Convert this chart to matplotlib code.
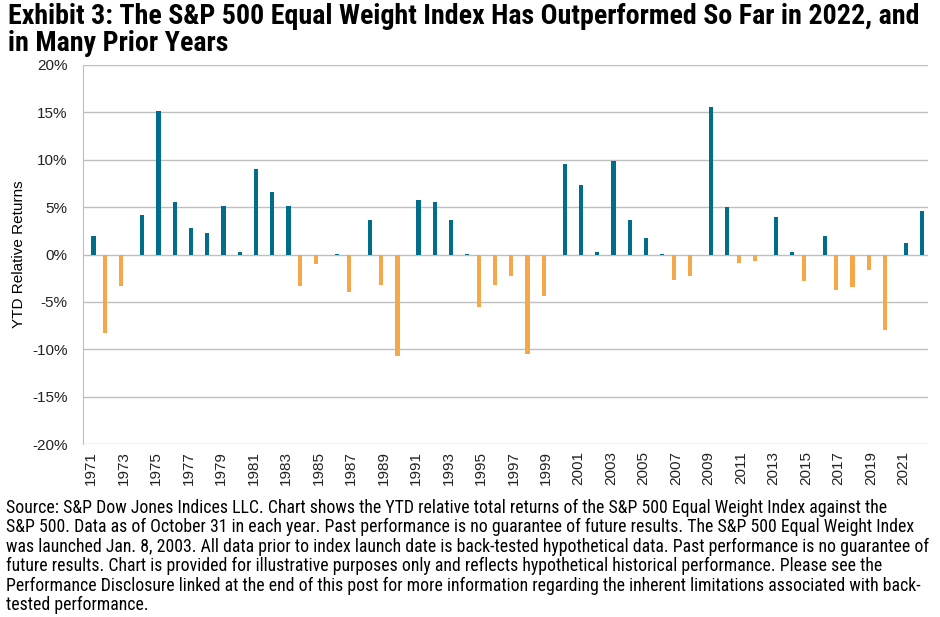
# Imports
import numpy as np
import matplotlib
matplotlib.use("Agg")
import matplotlib.pyplot as plt
from matplotlib import font_manager
from matplotlib.font_manager import FontProperties
from matplotlib.ticker import PercentFormatter

years = list(range(1971, 2023))
# YTD relative return (%) of the S&P 500 Equal Weight Index vs the S&P 500
rel_returns = [
    2.0, -8.3, -3.3, 4.2, 15.1, 5.5, 2.8, 2.3, 5.1, 0.3,   # 1971-1980
    9.0, 6.6, 5.1, -3.3, -1.0, 0.1, -4.0, 3.6, -3.2, -10.7,  # 1981-1990
    5.8, 5.5, 3.6, 0.1, -5.5, -3.2, -2.3, -10.5, -4.4, 9.5,  # 1991-2000
    7.3, 0.3, 9.9, 3.6, 1.7, 0.1, -2.7, -2.3, 15.6, 5.0,     # 2001-2010
    -0.9, -0.7, 4.0, 0.25, -2.8, 2.0, -3.7, -3.4, -1.6, -8.0,  # 2011-2020
    1.2, 4.6,                                                 # 2021-2022
]
tick_years = years[::2]

title = ("Exhibit 3: The S&P 500 Equal Weight Index Has Outperformed So Far in 2022, and\n"
         "in Many Prior Years")
footnote = (
    "Source: S&P Dow Jones Indices LLC. Chart shows the YTD relative total returns of the S&P 500 Equal Weight Index against the\n"
    "S&P 500. Data as of October 31 in each year. Past performance is no guarantee of future results. The S&P 500 Equal Weight Index\n"
    "was launched Jan. 8, 2003. All data prior to index launch date is back-tested hypothetical data. Past performance is no guarantee of\n"
    "future results. Chart is provided for illustrative purposes only and reflects hypothetical historical performance. Please see the\n"
    "Performance Disclosure linked at the end of this post for more information regarding the inherent limitations associated with back-\n"
    "tested performance."
)

blue = "#006E8A"
orange = "#F4A84A"


def pick_narrow(weight):
    # look for a condensed sans face; fall back to plain Liberation Sans
    want_bold = weight == "bold"
    best = None
    for f in font_manager.fontManager.ttflist:
        is_bold = f.weight in ("bold", 700, "700")
        if is_bold != want_bold or f.style != "normal":
            continue
        if f.name in ("Liberation Sans Narrow", "Arial Narrow", "Roboto Condensed"):
            return FontProperties(fname=f.fname)
        if f.name in ("Noto Sans", "Open Sans", "DejaVu Sans") and f.stretch in ("condensed", "semi-condensed"):
            best = best or FontProperties(fname=f.fname)
    if best:
        return best
    return FontProperties(family="Liberation Sans", weight=weight)


plt.rcParams["font.family"] = ["Liberation Sans", "DejaVu Sans"]
plt.rcParams["axes.unicode_minus"] = False

x = np.array(years)
vals = np.array(rel_returns)
pos = np.where(vals >= 0, vals, 0)
neg = np.where(vals < 0, vals, 0)

fig = plt.figure(figsize=(9.4, 6.17), dpi=100)
ax = fig.add_axes([83 / 940, 1 - 444 / 617, 845 / 940, 379 / 617])

ax.bar(x - 0.14, neg, width=0.26, color=orange, zorder=3)
ax.bar(x + 0.14, pos, width=0.26, color=blue, zorder=3)

ax.set_xlim(1970.5, 2022.5)
ax.set_ylim(-20, 20)
ax.set_yticks(np.arange(-20, 21, 5))
ax.yaxis.set_major_formatter(PercentFormatter(decimals=0))
ax.set_xticks(tick_years)
ax.set_xticklabels([str(y) for y in tick_years], rotation=90)
ax.tick_params(length=0, labelsize=11, colors="#222222")
ax.tick_params(axis="y", pad=11)
ax.tick_params(axis="x", pad=5)
ax.grid(axis="y", color="#BFBFBF", linewidth=1, zorder=0)
for s in ["top", "right", "bottom"]:
    ax.spines[s].set_visible(False)
ax.spines["left"].set_color("#BFBFBF")
ax.set_ylabel("YTD Relative Returns", fontsize=11, labelpad=4.5)

title_fp = pick_narrow("bold")
note_fp = pick_narrow("normal")
title_fp.set_size(16)
note_fp.set_size(12)

t = fig.text(0.008, 0.995, title, ha="left", va="top", fontproperties=title_fp, linespacing=1.0)
n = fig.text(0.006, 0.192, footnote, ha="left", va="top", fontproperties=note_fp, linespacing=1.1)

# scale text so its widest line spans like the reference
renderer = fig.canvas.get_renderer()
for txt, target, size in [(t, 913, 16), (n, 918, 12)]:
    w = txt.get_window_extent(renderer).width
    fp = txt.get_fontproperties()
    fp.set_size(size * target / w)
    txt.set_fontproperties(fp)

fig.savefig("out.png", dpi=100)
